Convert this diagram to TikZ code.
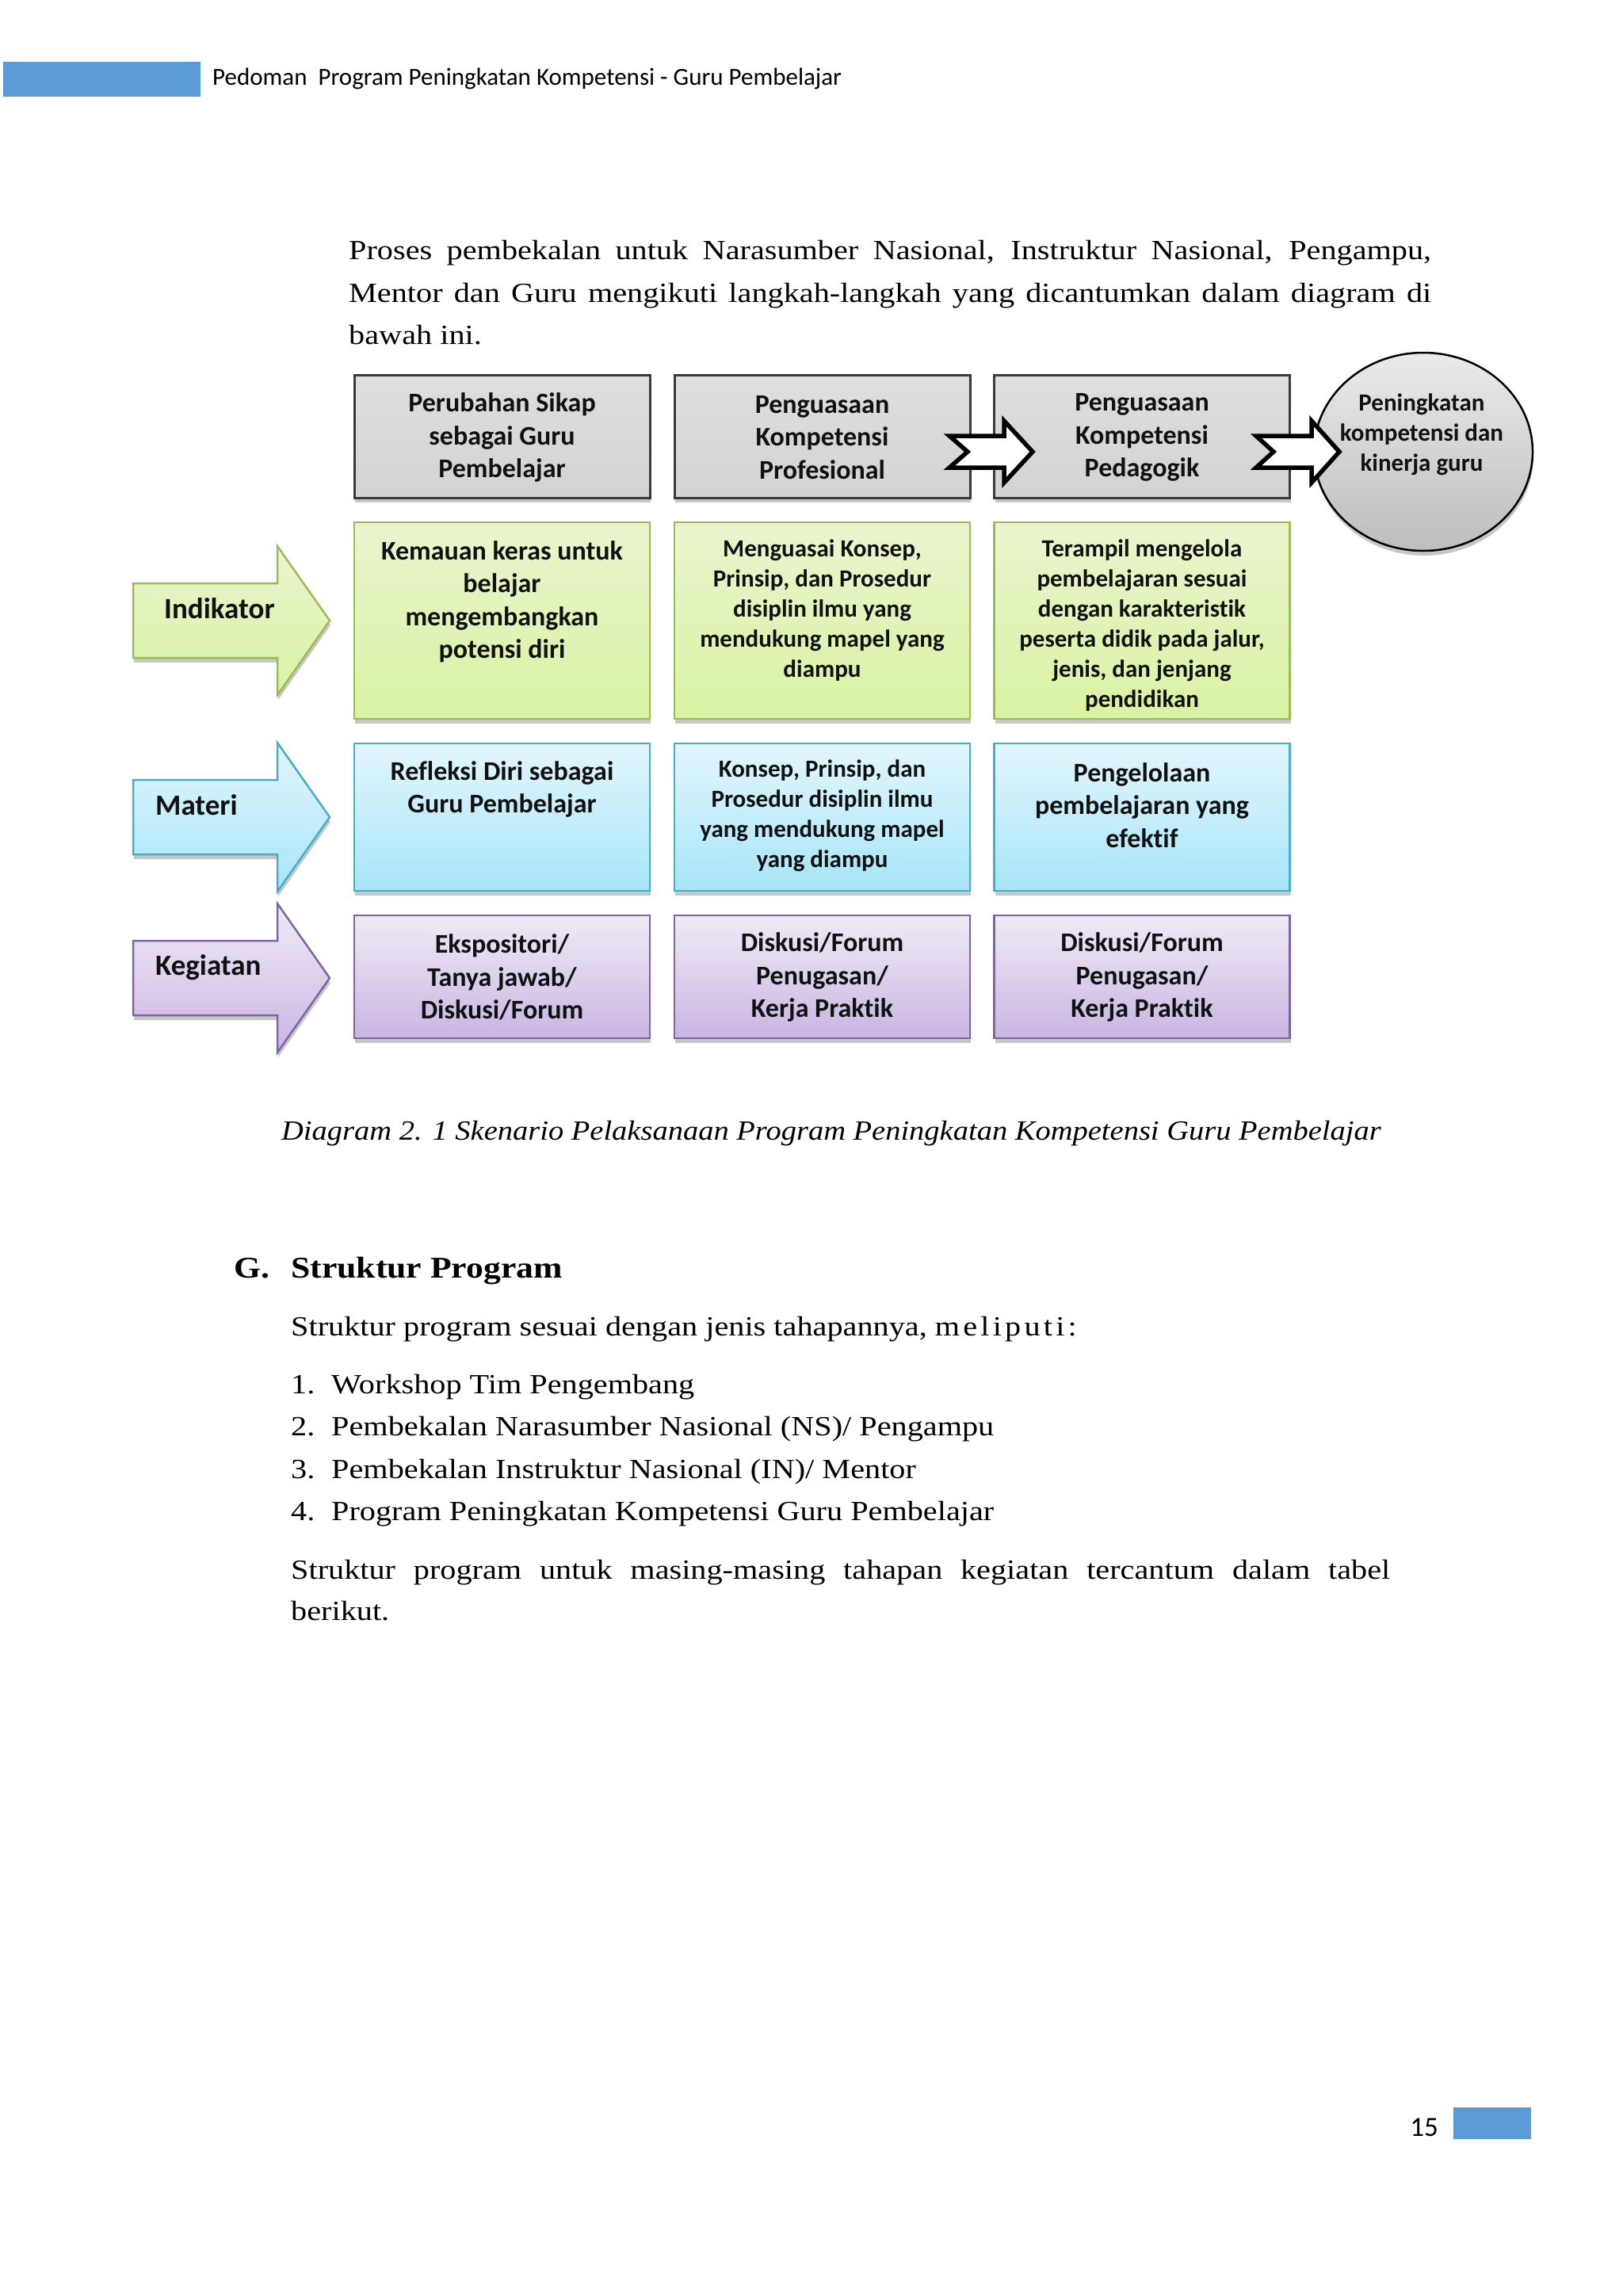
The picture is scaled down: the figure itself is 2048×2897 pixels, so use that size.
\documentclass[tikz,border=0pt]{standalone}
\usepackage{fontspec}
\setmainfont[FakeStretch=1.15]{Liberation Serif}
\newfontfamily\capfont[FakeStretch=1.10]{Liberation Serif}
\newfontfamily\calib[Ligatures=NoCommon]{Carlito}
\usetikzlibrary{shapes.geometric,shadows}
\definecolor{hdrblue}{HTML}{5B9BD5}
\definecolor{grayline}{HTML}{3A3A3A}
\definecolor{graytop}{HTML}{DEDEDE}
\definecolor{graybot}{HTML}{D3D3D3}
\definecolor{gline}{HTML}{9BBB59}
\definecolor{gtop}{HTML}{EAF5CF}
\definecolor{gbot}{HTML}{D8F2A2}
\definecolor{bline}{HTML}{4BACC6}
\definecolor{btop}{HTML}{E3F6FC}
\definecolor{bbot}{HTML}{A6E5F7}
\definecolor{pline}{HTML}{8064A2}
\definecolor{ptop}{HTML}{F0EAF6}
\definecolor{pbot}{HTML}{C9B6E2}
\definecolor{txt}{HTML}{111111}
\tikzset{
  shad/.style={drop shadow={shadow xshift=1pt, shadow yshift=-6pt, fill=black, opacity=0.22}},
  cell/.style={inner sep=0pt, minimum width=373pt, shad},
  graycell/.style={cell, draw=grayline, line width=3pt, top color=graytop, bottom color=graybot, minimum height=155pt},
  greencell/.style={cell, draw=gline, line width=2.5pt, top color=gtop, bottom color=gbot, minimum height=248pt},
  bluecell/.style={cell, draw=bline, line width=2.5pt, top color=btop, bottom color=bbot, minimum height=186pt},
  purplecell/.style={cell, draw=pline, line width=2.5pt, top color=ptop, bottom color=pbot, minimum height=155pt},
  bigtxt/.style={align=center, inner sep=0pt, text=txt, font=\calib\bfseries\fontsize{34}{41.5}\selectfont},
  smalltxt/.style={align=center, inner sep=0pt, text=txt, font=\calib\bfseries\fontsize{31}{38}\selectfont},
  lbltxt/.style={anchor=west, inner sep=0pt, text=txt, font=\calib\bfseries\fontsize{37}{44}\selectfont},
  greenarr/.style={draw=gline, line width=2.5pt, top color=gtop, bottom color=gbot, shad},
  bluearr/.style={draw=bline, line width=2.5pt, top color=btop, bottom color=bbot, shad},
  purplearr/.style={draw=pline, line width=2.5pt, top color=ptop, bottom color=pbot, shad},
  blockarr/.style={draw=black, line width=5.5pt, fill=white, line join=miter},
  bodytxt/.style={anchor=base west, inner sep=0pt, text=black, font=\fontsize{35}{53}\selectfont},
}
\begin{document}
\begin{tikzpicture}[x=1pt,y=-1pt]
\fill[white] (0,0) rectangle (2048,2897);
\useasboundingbox (0,0) rectangle (2048,2897);

% header
\fill[hdrblue] (4,78) rectangle (253,122);
\node[anchor=base west, inner sep=0pt, font=\calib\fontsize{31}{37}\selectfont] (hdr) at (268,107) {Pedoman\ \ Program Peningkatan Kompetensi - Guru Pembelajar};

% intro paragraph
\node[bodytxt] (p1) at (440,327) {\makebox[1366pt][s]{Proses pembekalan untuk Narasumber Nasional, Instruktur Nasional, Pengampu,}};
\node[bodytxt] (p2) at (440,381) {\makebox[1366pt][s]{Mentor dan Guru mengikuti langkah-langkah yang dicantumkan dalam diagram di}};
\node[bodytxt] (p3) at (440,434) {bawah ini.};

% row 1 (gray)
\node[graycell] (g1) at (633.5,550.5) {};
\node[graycell] (g2) at (1037.5,550.5) {};
\node[graycell] (g3) at (1441,550.5) {};
\node[ellipse, draw=black, line width=2.5pt, top color=black!8, bottom color=black!26, minimum width=276pt, minimum height=250pt, inner sep=0pt, shad] (goal) at (1796,570) {};
\node[bigtxt] (g1t) at (633.5,552) {Perubahan Sikap\\sebagai Guru\\Pembelajar};
\node[bigtxt] (g2t) at (1037.5,552) {Penguasaan\\Kompetensi\\Profesional};
\node[bigtxt] (g3t) at (1441,552) {Penguasaan\\Kompetensi\\Pedagogik};
\node[smalltxt] (goalt) at (1794,548) {Peningkatan\\kompetensi dan\\kinerja guru};

% block arrows between top cells
\draw[blockarr] (1198,550) -- (1267,550) -- (1267,531) -- (1303,570) -- (1267,609) -- (1267,590) -- (1198,590) -- (1221,570) -- cycle;
\draw[blockarr] (1585,550) -- (1655,550) -- (1655,531) -- (1690,570) -- (1655,609) -- (1655,590) -- (1585,590) -- (1607,570) -- cycle;

% left arrows
\path[greenarr] (168,736) -- (350,736) -- (350,689) -- (416,783) -- (350,877) -- (350,830) -- (168,830) -- cycle;
\path[bluearr] (168,984) -- (350,984) -- (350,937) -- (416,1031) -- (350,1125) -- (350,1078) -- (168,1078) -- cycle;
\path[purplearr] (168,1187) -- (350,1187) -- (350,1140) -- (416,1234) -- (350,1328) -- (350,1281) -- (168,1281) -- cycle;
\node[lbltxt] (lind) at (207,768) {Indikator};
\node[lbltxt] (lmat) at (196,1016) {Materi};
\node[lbltxt] (lkeg) at (196,1221) {Kegiatan};

% row 2 (green)
\node[greencell] (n1) at (633.5,783) {};
\node[greencell] (n2) at (1037.5,783) {};
\node[greencell] (n3) at (1441,783) {};
\node[bigtxt] (n1t) at (633.5,759) {Kemauan keras untuk\\belajar\\mengembangkan\\potensi diri};
\node[smalltxt] (n2t) at (1037.5,770) {Menguasai Konsep,\\Prinsip, dan Prosedur\\disiplin ilmu yang\\mendukung mapel yang\\diampu};
\node[smalltxt] (n3t) at (1441,789) {Terampil mengelola\\pembelajaran sesuai\\dengan karakteristik\\peserta didik pada jalur,\\jenis, dan jenjang\\pendidikan};

% row 3 (blue)
\node[bluecell] (m1) at (633.5,1031) {};
\node[bluecell] (m2) at (1037.5,1031) {};
\node[bluecell] (m3) at (1441,1031) {};
\node[bigtxt] (m1t) at (633.5,996) {Refleksi Diri sebagai\\Guru Pembelajar};
\node[smalltxt] (m2t) at (1037.5,1029) {Konsep, Prinsip, dan\\Prosedur disiplin ilmu\\yang mendukung mapel\\yang diampu};
\node[bigtxt] (m3t) at (1441,1016) {Pengelolaan\\pembelajaran yang\\efektif};

% row 4 (purple)
\node[purplecell] (k1) at (633.5,1232.5) {};
\node[purplecell] (k2) at (1037.5,1232.5) {};
\node[purplecell] (k3) at (1441,1232.5) {};
\node[bigtxt] (k1t) at (633.5,1233) {Ekspositori/\\Tanya jawab/\\Diskusi/Forum};
\node[bigtxt] (k2t) at (1037.5,1233) {Diskusi/Forum\\Penugasan/\\Kerja Praktik};
\node[bigtxt] (k3t) at (1441,1233) {Diskusi/Forum\\Penugasan/\\Kerja Praktik};

% caption
\node[anchor=base, inner sep=0pt, font=\capfont\itshape\fontsize{35}{53}\selectfont] (cap) at (1049,1438) {Diagram 2. 1 Skenario Pelaksanaan Program Peningkatan Kompetensi Guru Pembelajar};

% section G
\node[anchor=base west, inner sep=0pt, font=\bfseries\fontsize{38}{46}\selectfont] (gnum) at (295,1612) {G.};
\node[anchor=base west, inner sep=0pt, font=\bfseries\fontsize{38}{46}\selectfont] (gtitle) at (367,1612) {Struktur Program};
\node[bodytxt] (s1) at (367,1685) {Struktur program sesuai dengan jenis tahapannya, {\addfontfeatures{LetterSpace=12}meliputi:}};
\node[bodytxt] (l1n) at (367,1758) {1.};
\node[bodytxt] (l1) at (418,1758) {Workshop Tim Pengembang};
\node[bodytxt] (l2n) at (367,1811) {2.};
\node[bodytxt] (l2) at (418,1811) {Pembekalan Narasumber Nasional (NS)/ Pengampu};
\node[bodytxt] (l3n) at (367,1865) {3.};
\node[bodytxt] (l3) at (418,1865) {Pembekalan Instruktur Nasional (IN)/ Mentor};
\node[bodytxt] (l4n) at (367,1918) {4.};
\node[bodytxt] (l4) at (418,1918) {Program Peningkatan Kompetensi Guru Pembelajar};
\node[bodytxt] (e1) at (367,1992) {\makebox[1387pt][s]{Struktur program untuk masing-masing tahapan kegiatan tercantum dalam tabel}};
\node[bodytxt] (e2) at (367,2044) {berikut.};

% footer
\node[anchor=base east, inner sep=0pt, font=\calib\fontsize{35}{42}\selectfont] (pg) at (1815,2695) {15};
\fill[hdrblue] (1834,2659) rectangle (1932,2699);
\end{tikzpicture}
\end{document}
